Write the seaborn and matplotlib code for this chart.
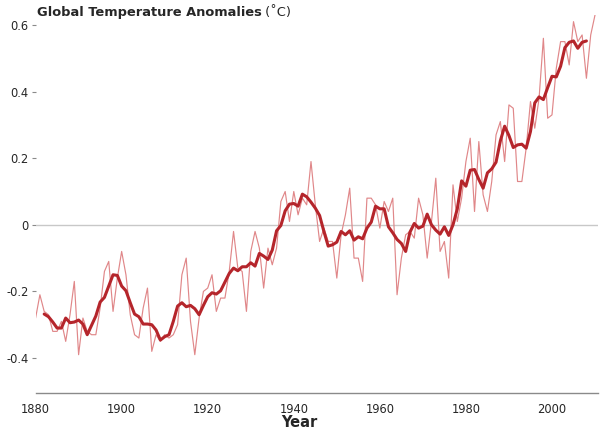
"""Global temperature anomalies 1880-2010: annual values and 5-year mean."""
import matplotlib

matplotlib.use("Agg")
import matplotlib.pyplot as plt
import pandas as pd
import seaborn as sns

OUTPUT = "out.png"

YEARS = list(range(1880, 2011))

# annual anomaly, deg C, one row per decade
ANOMALY = [
    -0.28, -0.21, -0.26, -0.27, -0.32, -0.32, -0.29, -0.35, -0.27, -0.17,
    -0.39, -0.28, -0.32, -0.33, -0.33, -0.25, -0.14, -0.11, -0.26, -0.16,
    -0.08, -0.15, -0.27, -0.33, -0.34, -0.25, -0.19, -0.38, -0.33, -0.35,
    -0.33, -0.34, -0.33, -0.30, -0.15, -0.10, -0.29, -0.39, -0.28, -0.20,
    -0.19, -0.15, -0.26, -0.22, -0.22, -0.14, -0.02, -0.13, -0.14, -0.26,
    -0.08, -0.02, -0.07, -0.19, -0.07, -0.12, -0.07, 0.07, 0.10, 0.01,
    0.10, 0.03, 0.08, 0.06, 0.19, 0.06, -0.05, -0.01, -0.05, -0.05,
    -0.16, -0.03, 0.03, 0.11, -0.10, -0.10, -0.17, 0.08, 0.08, 0.06,
    -0.01, 0.07, 0.04, 0.08, -0.21, -0.10, -0.03, -0.02, -0.04, 0.08,
    0.03, -0.10, 0.01, 0.14, -0.08, -0.05, -0.16, 0.12, 0.01, 0.08,
    0.19, 0.26, 0.04, 0.25, 0.09, 0.04, 0.13, 0.27, 0.31, 0.19,
    0.36, 0.35, 0.13, 0.13, 0.23, 0.37, 0.29, 0.38, 0.56, 0.32,
    0.33, 0.47, 0.55, 0.55, 0.48, 0.61, 0.55, 0.57, 0.44, 0.57,
    0.63,
]

X_TICKS = [1880, 1900, 1920, 1940, 1960, 1980, 2000]
Y_TICKS = [-0.4, -0.2, 0, 0.2, 0.4, 0.6]
Y_TICK_LABELS = ["-0.4", "-0.2", "0", "0.2", "0.4", "0.6"]

THIN_COLOR = "#e08789"
THICK_COLOR = "#b5252b"
TEXT_COLOR = "#262626"


def main() -> None:
    df = pd.DataFrame({"year": YEARS, "anomaly": ANOMALY})
    df["mean5"] = df["anomaly"].rolling(5, center=True).mean()

    sns.set_theme(style="white")
    plt.rcParams["font.family"] = ["DejaVu Sans"]

    fig = plt.figure(figsize=(6.0, 4.33), dpi=100)
    ax = fig.add_axes([0.0593, 0.0924, 0.9367, 0.873])

    ax.axhline(0, color="#c8c8c8", linewidth=1.0, zorder=1)
    sns.lineplot(data=df, x="year", y="anomaly", color=THIN_COLOR,
                 linewidth=0.85, ax=ax, zorder=2)
    sns.lineplot(data=df.dropna(), x="year", y="mean5", color=THICK_COLOR,
                 linewidth=2.2, ax=ax, zorder=3)

    ax.set_xlim(1880, 2010.6)
    ax.set_ylim(-0.505, 0.63)
    ax.set_xticks(X_TICKS)
    ax.set_xticklabels([str(y) for y in X_TICKS])
    ax.set_yticks(Y_TICKS)
    ax.set_yticklabels(Y_TICK_LABELS)

    for side in ["left", "top", "right"]:
        ax.spines[side].set_visible(False)
    ax.spines["bottom"].set_color("#8a8a8a")
    ax.spines["bottom"].set_linewidth(1.0)
    ax.tick_params(axis="x", length=4, width=0.8, color="#8a8a8a",
                   labelsize=8.3, labelcolor=TEXT_COLOR, pad=3)
    ax.tick_params(axis="y", length=3, width=0.8, color="#8a8a8a",
                   labelsize=8.3, labelcolor=TEXT_COLOR, pad=2, left=True)

    ax.set_ylabel("")
    ax.set_xlabel("Year", fontsize=10.5, weight="bold", color=TEXT_COLOR)
    ax.xaxis.set_label_coords(0.47, -0.058)

    title = fig.text(0.061, 0.972, "Global Temperature Anomalies",
                     fontsize=9.4, weight="bold", color=TEXT_COLOR,
                     ha="left", va="center")
    ax.annotate(" (\u02daC)", xy=(1, 0), xycoords=title, fontsize=9.4,
                color=TEXT_COLOR, ha="left", va="bottom")

    fig.savefig(OUTPUT, dpi=100, facecolor="white")
    plt.close(fig)


if __name__ == "__main__":
    main()
